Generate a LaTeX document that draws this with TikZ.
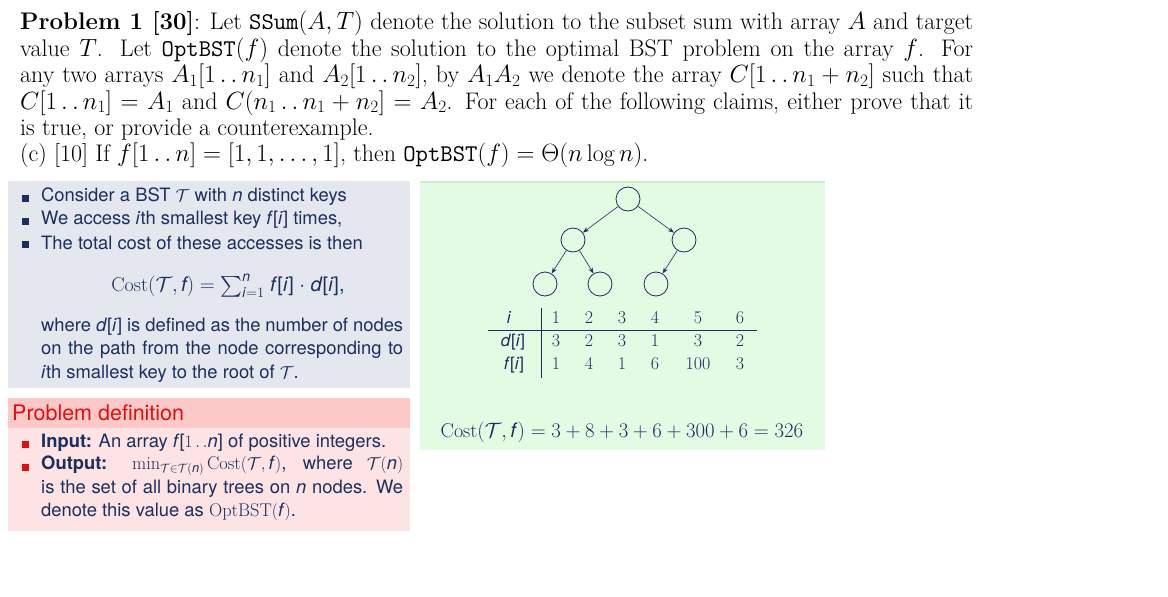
\documentclass[tikz,border=0pt]{standalone}
\usepackage{amsmath}
\usepackage{fontspec}
\setsansfont{TeX Gyre Heros}
\usetikzlibrary{arrows.meta}
\definecolor{tblue}{HTML}{1B2F5F}
\definecolor{gbox}{HTML}{E4E7EE}
\definecolor{rhead}{HTML}{FCC8C8}
\definecolor{rbody}{HTML}{FDE3E3}
\definecolor{gnbox}{HTML}{E3FBE3}
\definecolor{gnline}{HTML}{C8F0C8}
\definecolor{rtxt}{HTML}{E01010}
\newcommand{\sfit}[1]{\textit{#1}}
\tikzset{
 sfb/.style={font=\sffamily\fontsize{18.4}{23.2}\selectfont, text=tblue, inner sep=0pt},
 bul/.style={fill=tblue, minimum size=7pt, inner sep=0pt},
 rbul/.style={fill=rtxt, minimum size=7pt, inner sep=0pt},
 tnode/.style={draw=tblue, circle, minimum size=24pt, inner sep=0pt, thick},
 tarr/.style={-{Stealth[length=6pt]}, draw=tblue, semithick},
 cell/.style={font=\fontsize{18}{20}\selectfont, text=tblue, inner sep=0pt, anchor=base}
}
\begin{document}
\begin{tikzpicture}[x=1pt,y=-1pt]
\useasboundingbox[fill=white] (0,0) rectangle (1168,597);
% header
\node[anchor=north west, text width=953pt, align=justify, inner sep=0pt, font=\fontsize{24}{26.4}\selectfont] (hdr) at (20,11)
{\textbf{Problem 1 [30]}: Let $\texttt{SSum}(A,T)$ denote the solution to the subset sum with array $A$ and target\linebreak
value $T$. Let $\texttt{OptBST}(f)$ denote the solution to the optimal BST problem on the array $f$. For\linebreak
any two arrays $A_1[1\mathinner{\ldotp\ldotp}n_1]$ and $A_2[1\mathinner{\ldotp\ldotp}n_2]$, by $A_1A_2$ we denote the array $C[1\mathinner{\ldotp\ldotp}n_1+n_2]$ such that\linebreak
$C[1\mathinner{\ldotp\ldotp}n_1]=A_1$ and $C(n_1\mathinner{\ldotp\ldotp}n_1+n_2]=A_2$. For each of the following claims, either prove that it\linebreak
is true, or provide a counterexample.\hfill\null\\
(c) [10] If $f[1\mathinner{\ldotp\ldotp}n]=[1,1,\ldots,1]$, then $\texttt{OptBST}(f)=\Theta(n\log n)$.\hfill\null};
% left gray box
\fill[gbox] (8,181) rectangle (410,388);
\node[bul] (b1) at (25,198) {};
\node[bul] (b2) at (25,221) {};
\node[bul] (b3) at (25,244) {};
\node[sfb, anchor=west] (t1) at (41,197) {Consider a BST $\mathcal{T}$ with \sfit{n} distinct keys};
\node[sfb, anchor=west] (t2) at (41,220) {We access \sfit{i}th smallest key \sfit{f}[\sfit{i}] times,};
\node[sfb, anchor=west] (t3) at (41,243) {The total cost of these accesses is then};
\node[sfb, font=\sffamily\fontsize{20}{24}\selectfont] (cf) at (228,286) {$\mathrm{Cost}(\mathcal{T},\textit{\textsf{f}})=\textstyle\sum_{\textsf{\textit{i}}=1}^{\textsf{\textit{n}}}$ \sfit{f}[\sfit{i}] $\cdot$ \sfit{d}[\sfit{i}],};
\node[sfb, anchor=north west, text width=362pt, align=justify] (wh) at (41,318)
{where \sfit{d}[\sfit{i}] is defined as the number of nodes\linebreak on the path from the node corresponding to\linebreak \sfit{i}th smallest key to the root of $\mathcal{T}$.\hfill\null};
% red box
\fill[rhead] (8,398) rectangle (410,428);
\fill[rbody] (8,428) rectangle (410,531);
\node[anchor=west, inner sep=0pt, text=rtxt, font=\sffamily\fontsize{21.5}{24}\selectfont] (pd) at (12,413) {Problem definition};
\node[rbul] (r1) at (25,444) {};
\node[rbul] (r2) at (25,467) {};
\node[sfb, anchor=west] (i1) at (41,443) {\textbf{Input:} An array \sfit{f}[$1\mathinner{\ldotp\ldotp}$\sfit{n}] of positive integers.};
\node[sfb, anchor=north west, text width=362pt, align=justify] (o1) at (41,456)
{\textbf{Output:} $\min_{\mathcal{T}\in\mathcal{T}(\textsf{\textit{n}})}\mathrm{Cost}(\mathcal{T},\textsf{\textit{f}})$, where $\mathcal{T}(\textsf{\textit{n}})$\linebreak is the set of all binary trees on \sfit{n} nodes. We\linebreak denote this value as $\mathrm{OptBST}(\textsf{\textit{f}})$.\hfill\null};
% green box
\fill[gnbox] (420,181) rectangle (825,450);
\draw[gnline, line width=2pt] (420,182) -- (825,182);
\node[tnode] (n0) at (628,199) {};
\node[tnode] (n1) at (573,240) {};
\node[tnode] (n2) at (684,240) {};
\node[tnode] (n3) at (545,284) {};
\node[tnode] (n4) at (600,284) {};
\node[tnode] (n5) at (656,284) {};
\draw[tarr] (n0) -- (n1);
\draw[tarr] (n0) -- (n2);
\draw[tarr] (n1) -- (n3);
\draw[tarr] (n1) -- (n4);
\draw[tarr] (n2) -- (n5);
% table
\coordinate (vt) at (541,308);
\coordinate (vb) at (541,378);
\coordinate (hl) at (488,330);
\coordinate (hr) at (757,330);
\draw[tblue, semithick] (vt) -- (vb);
\draw[tblue, semithick] (hl) -- (hr);
\node[cell, font=\sffamily\fontsize{17}{20}\selectfont] (ri) at (509,323) {\textit{i}};
\node[cell, font=\sffamily\fontsize{17}{20}\selectfont] (rd) at (513,346) {\textit{d}[\textit{i}]};
\node[cell, font=\sffamily\fontsize{17}{20}\selectfont] (rf) at (514,369) {\textit{f}[\textit{i}]};
\foreach \x/\a/\b/\c [count=\k] in {556/1/3/1, 589/2/2/4, 622/3/3/1, 655/4/1/6, 698/5/3/100, 740/6/2/3}{
 \node[cell] (ci\k) at (\x,323) {\a};
 \node[cell] (cd\k) at (\x,346) {\b};
 \node[cell] (cf\k) at (\x,369) {\c};
}
\node[font=\fontsize{20}{24}\selectfont, text=tblue, inner sep=0pt] (ceq) at (622,432) {$\mathrm{Cost}(\mathcal{T},\textsf{\textit{f}})=3+8+3+6+300+6=326$};
\end{tikzpicture}
\end{document}
